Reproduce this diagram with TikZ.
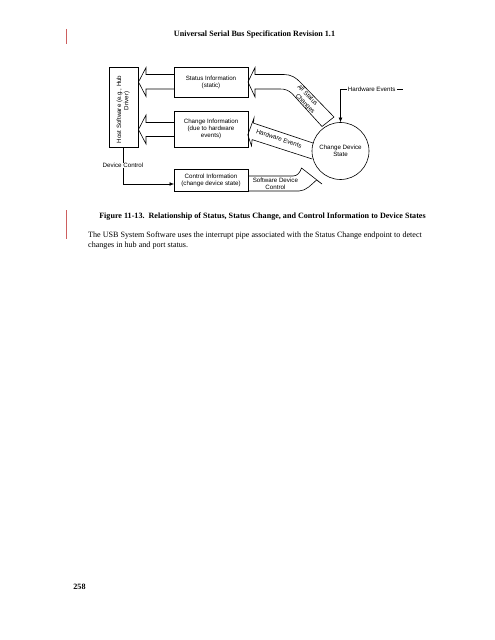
\documentclass[tikz,border=0pt]{standalone}
\usepackage{fontspec}
\setmainfont{Liberation Serif}
\newfontfamily\dsans{Liberation Sans}
\usetikzlibrary{arrows.meta}
\definecolor{redbar}{RGB}{205,95,95}
\newcommand\dfont{\dsans\fontsize{6.2bp}{7.2bp}\selectfont}
\newcommand\sfont{\fontsize{8.1bp}{9.7bp}\selectfont}
\begin{document}
\begin{tikzpicture}[x=1bp,y=-1bp,
  box/.style={draw, line width=0.6bp, inner sep=0pt},
  lbl/.style={font=\dfont, align=center, inner sep=0pt},
  blk/.style={draw, line width=0.6bp, line join=miter},
  con/.style={line width=0.6bp},
  tipa/.style={-{Latex[length=4.5bp,width=3.8bp]}},
  bar/.style={draw=redbar, line width=0.9bp}]
\useasboundingbox (0,0) rectangle (495,640);
\fill[white] (0,0) rectangle (495,640);
% header
\node[font=\sfont\bfseries, inner sep=0pt, anchor=base] (head) at (254.5,37) {Universal Serial Bus Specification Revision 1.1};
\coordinate (hb1) at (66,29); \coordinate (hb2) at (66,44);
\draw[bar] (hb1) -- (hb2);
% block arrows
\draw[blk] (174,74.5) -- (146,74.5) -- (146,67.5) -- (138.5,82) -- (146,96.5) -- (146,89) -- (174,89);
\draw[blk] (174,122.5) -- (146,122.5) -- (146,115) -- (138.5,129.5) -- (146,144) -- (146,136.5) -- (174,136.5);
\draw[blk] (334,117) -- (301,83) .. controls (296,77.5) and (291,74.5) .. (284,74.5) -- (255,74.5) -- (255,67.5) -- (248,82) -- (255,97) -- (255,89) -- (280,89) .. controls (285,89) and (288,90) .. (292,93.5) -- (322,126.5) -- cycle;
\draw[blk] (313,143) -- (253.5,123.1) -- (254,118) -- (247.8,134.8) -- (251.5,146) -- (252.1,139.6) -- (312.2,159);
\draw[blk] (248,176) -- (293,176) .. controls (297.5,176) and (300,172.5) .. (301.5,168) -- (322,184) -- (316.5,180) .. controls (312,184) and (306,191) .. (299,191) -- (248,191);
% boxes
\node[box, minimum width=29bp, minimum height=80bp] (host) at (123.5,107) {};
\node[lbl, rotate=90] (host1) at (119.5,109.5) {Host Software (e.g., Hub};
\node[lbl, rotate=90] (host2) at (126.8,101) {Driver)};
\node[box, lbl, minimum width=74bp, minimum height=30bp] (status) at (211,82) {Status Information\\(static)};
\node[box, lbl, minimum width=74bp, minimum height=36bp] (change) at (211,129) {Change Information\\(due to hardware\\events)};
\node[box, lbl, minimum width=74bp, minimum height=22bp] (ctrl) at (211,180) {Control Information\\(change device state)};
\node[box, lbl, circle, minimum size=57bp] (cds) at (340.5,151) {Change Device\\State};
% arrow labels
\node[lbl, rotate=-46] (asc1) at (307.9,94.9) {All Status};
\node[lbl, rotate=-46] (asc2) at (305.1,104.1) {Changes};
\node[lbl, rotate=-18.5] (hwmid) at (279,138.5) {Hardware Events};
\node[lbl] (sdc) at (275.4,183.5) {Software Device\\Control};
% device control
\node[lbl] (dc) at (123,165) {Device Control};
\coordinate (ctrlin) at (174,184);
\draw[con] (host.south) -- (host.south |- dc.north);
\draw[con, tipa] ([yshift=-0.5bp]host.south |- dc.south) |- (ctrlin);
% hardware events top
\node[lbl, anchor=west, inner xsep=1.2bp] (hwe) at (346.5,89) {Hardware Events};
\coordinate (hwend) at (403,89);
\draw[con] (hwe.east) -- (hwend);
\draw[con, tipa] (hwe.west) -| (cds.north);
% caption and text
\node[font=\sfont\bfseries, inner sep=0pt, anchor=base] (cap) at (262.5,218) {Figure 11-13.\ \ Relationship of Status, Status Change, and Control Information to Device States};
\coordinate (cb1) at (66,210); \coordinate (cb2) at (66,239);
\draw[bar] (cb1) -- (cb2);
\node[font=\sfont, inner sep=0pt, anchor=base west] (body1) at (88,237.5) {The USB System Software uses the interrupt pipe associated with the Status Change endpoint to detect};
\node[font=\sfont, inner sep=0pt, anchor=base west] (body2) at (88,247.2) {changes in hub and port status.};
\node[font=\sfont\bfseries, inner sep=0pt, anchor=base] (pg) at (79.5,589.7) {258};
\end{tikzpicture}
\end{document}
